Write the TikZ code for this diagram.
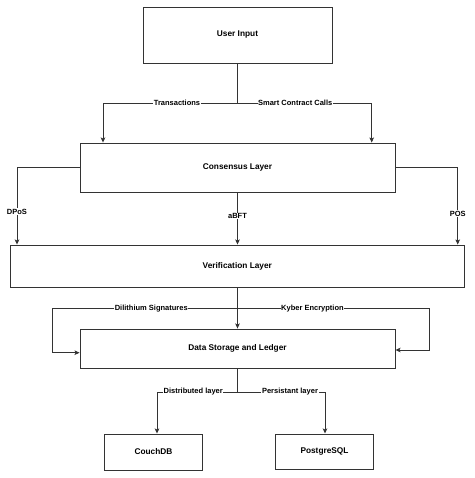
\documentclass[tikz,border=0pt]{standalone}
\usepackage{fontspec}
\setmainfont{Liberation Sans}
\usetikzlibrary{arrows.meta}
\definecolor{ln}{HTML}{333333}
\tikzset{
  box/.style={draw=ln, line width=0.9pt, inner sep=0pt, font=\bfseries\fontsize{8.3}{10}\selectfont, text=black},
  lbl/.style={fill=white, inner sep=0.6pt, font=\bfseries\fontsize{7.5}{9}\selectfont, text=black},
  conn/.style={draw=ln, line width=0.9pt},
  arr/.style={conn, -{Stealth[length=5pt,width=4.5pt,inset=1pt]}}
}
\begin{document}
\begin{tikzpicture}[x=1pt,y=-1pt]
\useasboundingbox (0,0) rectangle (474,478);
% boxes
\node[box, minimum width=189pt, minimum height=56pt] (ui) at (237.5,35) {User Input};
\node[box, minimum width=315pt, minimum height=49pt] (cons) at (237.5,167.5) {Consensus Layer};
\node[box, minimum width=454.7pt, minimum height=42pt] (ver) at (237.3,266) {Verification Layer};
\node[box, minimum width=315pt, minimum height=39pt] (data) at (237.5,348.5) {Data Storage and Ledger};
\node[box, minimum width=97.6pt, minimum height=36pt] (couch) at (153.5,452) {CouchDB};
\node[box, minimum width=97.6pt, minimum height=35.5pt] (pg) at (324.5,451.7) {PostgreSQL};
% junctions and bends
\coordinate (j1) at (237.5,103);
\coordinate (t1) at (103,103);
\coordinate (t2) at (371.7,103);
\coordinate (d1) at (17,167.5);
\coordinate (p1) at (457.7,167.5);
\coordinate (j2) at (237.5,308.3);
\coordinate (k1) at (52,308.3);
\coordinate (k2) at (52,352.7);
\coordinate (k3) at (429.7,308.3);
\coordinate (k4) at (429.7,350);
\coordinate (j3) at (237.5,392);
\coordinate (c1) at (157,392);
\coordinate (c2) at (325,392);
% connectors
\draw[conn] (ui.south) -- (j1);
\draw[arr] (j1) -- node[lbl, pos=0.45]{Transactions} (t1) -- (cons.north -| t1);
\draw[arr] (j1) -- node[lbl, pos=0.43]{Smart Contract Calls} (t2) -- (cons.north -| t2);
\draw[arr] (cons.west) -- (d1) -- node[lbl, pos=0.57]{DPoS} (ver.north -| d1);
\draw[arr] (cons.south) -- node[lbl, pos=0.45]{aBFT} (ver.north -| cons.south);
\draw[arr] (cons.east) -- (p1) -- node[lbl, pos=0.6]{POS} (ver.north -| p1);
\draw[arr] (ver.south -| data.north) -- (data.north);
\draw[arr] (j2) -- node[lbl, pos=0.465]{Dilithium Signatures} (k1) -- (k2) -- (data.west |- k2);
\draw[arr] (j2) -- node[lbl, pos=0.39]{Kyber Encryption} (k3) -- (k4) -- (data.east |- k4);
\draw[conn] (data.south) -- (j3);
\draw[arr] (j3) -- node[lbl, pos=0.55]{Distributed layer} (c1) -- (couch.north -| c1);
\draw[arr] (j3) -- node[lbl, pos=0.6]{Persistant layer} (c2) -- (pg.north -| c2);
\end{tikzpicture}
\end{document}
